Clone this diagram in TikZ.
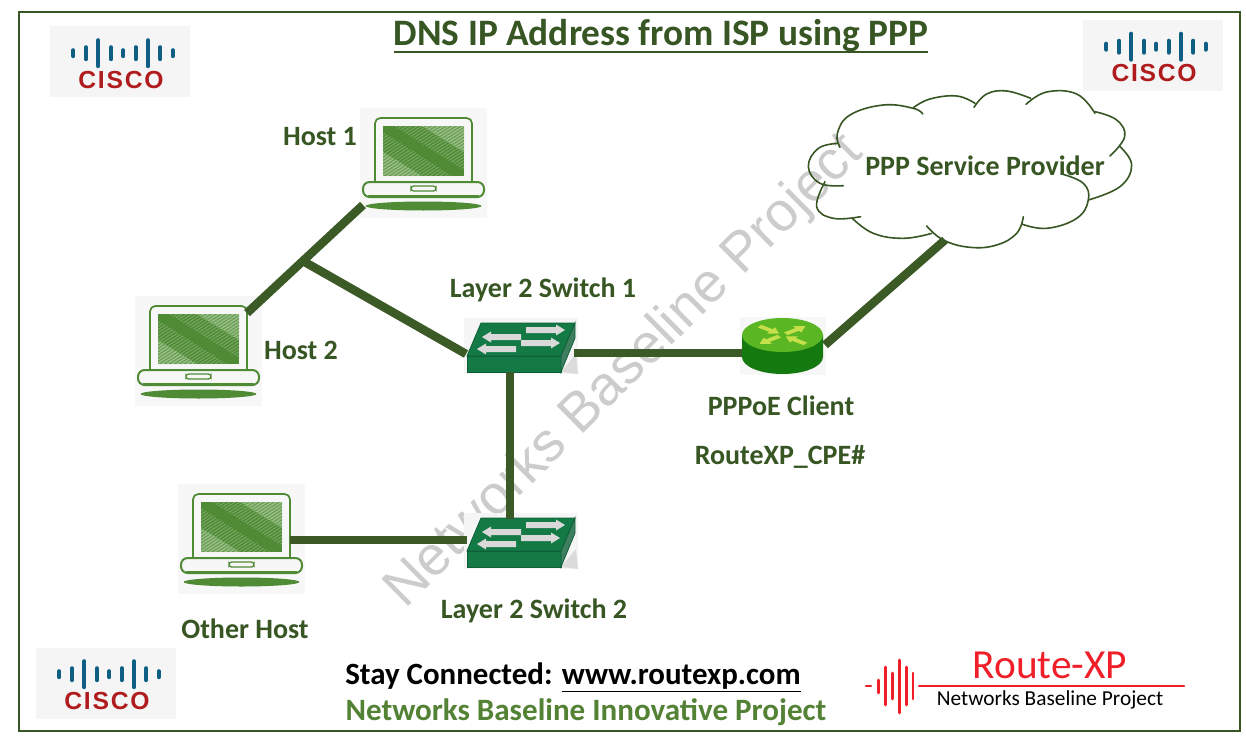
\documentclass[tikz,border=0pt]{standalone}
\usepackage{fontspec}
\setmainfont{Carlito}
\newfontfamily\wmfont{Liberation Sans}
\newfontfamily\ciscofont[LetterSpace=7]{Liberation Sans}
\definecolor{dkgreen}{HTML}{375623}
\definecolor{linkgreen}{HTML}{3B5A25}
\definecolor{midgreen}{HTML}{548235}
\definecolor{lapgreen}{HTML}{4F8B35}
\definecolor{laplight}{HTML}{9DC28C}
\definecolor{lapmid}{HTML}{7AA966}
\definecolor{swgreen}{HTML}{137A46}
\definecolor{swdark}{HTML}{0E5F38}
\definecolor{ciscoblue}{HTML}{0F5F85}
\definecolor{ciscored}{HTML}{B01C1E}
\definecolor{xpred}{HTML}{F01E28}
\definecolor{routerside}{HTML}{147A10}
\definecolor{routertop}{HTML}{5BB624}
\definecolor{routerarrow}{HTML}{C5E04A}
\newcommand{\pxfont}[1]{\fontsize{#1}{#1}\selectfont}
\newcommand{\swright}[3]{\fill[black!15] (#1,#3-3) -- (#2-9,#3-3) -- (#2-9,#3-5.5) -- (#2,#3) -- (#2-9,#3+5.5) -- (#2-9,#3+3) -- (#1,#3+3) -- cycle;}
\newcommand{\swleft}[3]{\fill[black!15] (#1,#3-3) -- (#2+9,#3-3) -- (#2+9,#3-5.5) -- (#2,#3) -- (#2+9,#3+5.5) -- (#2+9,#3+3) -- (#1,#3+3) -- cycle;}
\tikzset{
  x=.75pt,y=-.75pt,
  link/.style={draw=linkgreen,line width=5.6pt},
  diaglink/.style={draw=linkgreen,line width=6.4pt},
  lbl/.style={text=dkgreen,font=\pxfont{21}\bfseries,inner sep=0pt},
  cloudline/.style={draw=dkgreen,line width=1.2pt,line cap=round},
  barline/.style={draw=ciscoblue,line width=3pt,line cap=round},
  xpbar/.style={draw=xpred,line width=1.9pt,line cap=round},
  ciscologo/.pic={
    \fill[black!4] (0,0) rectangle (140,71);
    \foreach \bx/\bh in {23.3/3,36/6,48.3/13,61/6,73.3/3,85.7/6,98/13,110.3/6,122.7/3}
      \draw[barline] (\bx,26.7-\bh) -- (\bx,26.7+\bh);
    \node[text=ciscored,font=\ciscofont\pxfont{18.5}\bfseries,inner sep=0pt] (-word) at (71,53.5) {CISCO};
  },
  laptop/.pic={
    \fill[black!3] (0,0) rectangle (127,110);
    \fill[lapgreen] (23,18) rectangle (104,68);
    \begin{scope}
      \clip (34,18) -- (104,18) -- (104,62) -- cycle;
      \foreach \o in {-40,-35,...,130}
        \draw[lapmid,line width=.7pt] (\o,68) -- ++(80,-52);
    \end{scope}
    \begin{scope}
      \clip (62,18) -- (104,18) -- (104,44) -- cycle;
      \foreach \o in {-38,-33,...,130}
        \draw[laplight,line width=.9pt] (\o,68) -- ++(80,-52);
    \end{scope}
    \begin{scope}
      \clip (23,24) -- (23,68) -- (92,68) -- cycle;
      \foreach \o in {-40,-35,...,130}
        \draw[lapmid,line width=.7pt] (\o,68) -- ++(80,-52);
    \end{scope}
    \begin{scope}
      \clip (23,44) -- (23,68) -- (62,68) -- cycle;
      \foreach \o in {-38,-33,...,130}
        \draw[laplight,line width=.9pt] (\o,68) -- ++(80,-52);
    \end{scope}
    \draw[lapgreen,line width=1.3pt,rounded corners=4pt] (15,74) -- (15,10) -- (112,10) -- (112,74);
    \draw[lapgreen,line width=1.5pt,rounded corners=5pt] (3,74) rectangle (124,89);
    \draw[lapgreen,line width=1pt,rounded corners=2pt] (51,78) rectangle (76,83);
    \fill[lapgreen] (63.5,98) ellipse (58 and 4.5);
    \fill[lapgreen] (8,87) rectangle (119,90);
  },
  switchicon/.pic={
    \fill[black!4] (0,0) rectangle (114,56);
    \fill[black!14] (97,54) -- (112,36) -- (114,56) -- cycle;
    \filldraw[fill=swgreen,draw=swdark,line width=.6pt] (3,38) -- (17,5) -- (111,5) -- (97,38) -- cycle;
    \filldraw[fill=swgreen,draw=swdark,line width=.6pt] (3,38) rectangle (97,54);
    \filldraw[fill=swdark!80,draw=swdark,line width=.6pt] (97,38) -- (111,5) -- (111,20) -- (97,54) -- cycle;
    \swright{62}{101}{12}
    \swleft{57}{18}{19}
    \swright{57}{96}{25}
    \swleft{52}{13}{31}
  },
}
\begin{document}
\begin{tikzpicture}
\useasboundingbox (0,0) rectangle (1246,742);
\fill[white] (0,0) rectangle (1246,742);
\node[text=black!20,font=\wmfont\pxfont{41.5},rotate=44.7,inner sep=0pt] (watermark) at (625,372) {Networks Baseline Project};
\draw[dkgreen,line width=1.6pt] (19,12) rectangle (1240,731);

\pic (logoA) at (50,26.5) {ciscologo};
\pic (logoB) at (1083,20) {ciscologo};
\pic (logoC) at (36,647.5) {ciscologo};

\pic (hostA) at (360,108) {laptop};
\pic (hostB) at (135,296) {laptop};
\pic (hostC) at (178,484) {laptop};
\pic (swA) at (464,318) {switchicon};
\pic (swB) at (464,513) {switchicon};

% router
\fill[black!3] (740,317) rectangle (826,375);
\fill[routerside] (742,335) -- (742,357) arc[start angle=180,end angle=0,x radius=40.5,y radius=17] -- (823,335) -- cycle;
\fill[routertop] (782.5,335) ellipse (40.5 and 17);
\foreach \ang in {35,215}
  \fill[routerarrow,shift={(782.5,335)},yscale=.55,rotate=\ang] (4,-3) -- (18,-3) -- (18,-7) -- (28,0) -- (18,7) -- (18,3) -- (4,3) -- cycle;
\foreach \ang in {145,325}
  \fill[routerarrow,shift={(782.5,335)},yscale=.55,rotate=\ang] (28,-3) -- (14,-3) -- (14,-7) -- (4,0) -- (14,7) -- (14,3) -- (28,3) -- cycle;

% cloud
\begin{scope}[shift={(790,70)},x=.25pt,y=-.25pt]
\draw[cloudline] plot[smooth,tension=.7] coordinates {(150,232) (142,190) (180,135) (280,105) (370,115) (398,132)};
\draw[cloudline] plot[smooth,tension=.7] coordinates {(370,113) (420,87) (500,78) (555,100)};
\draw[cloudline] plot[smooth,tension=.7] coordinates {(552,112) (590,72) (650,63) (722,85)};
\draw[cloudline] plot[smooth,tension=.7] coordinates {(708,103) (770,66) (860,72) (915,130)};
\draw[cloudline] plot[smooth,tension=.7] coordinates {(915,125) (980,150) (1004,200) (960,258)};
\draw[cloudline] plot[smooth,tension=.7] coordinates {(990,230) (1025,285) (990,350) (895,390)};
\draw[cloudline] plot[smooth,tension=.7] coordinates {(815,312) (880,340) (895,390) (860,445) (770,475) (695,462)};
\draw[cloudline] plot[smooth,tension=.7] coordinates {(700,440) (680,490) (620,525) (540,532) (460,510) (410,468)};
\draw[cloudline] plot[smooth,tension=.7] coordinates {(425,490) (340,505) (250,490) (187,445)};
\draw[cloudline] plot[smooth,tension=.7] coordinates {(212,440) (130,445) (80,410) (105,335)};
\draw[cloudline] plot[smooth,tension=.7] coordinates {(160,347) (90,340) (55,290) (85,235) (145,220)};
\end{scope}

% connector ends
\coordinate (h1p) at (363,205);
\coordinate (h2p) at (247,313);
\coordinate (jn) at (303,261);
\coordinate (s1w) at (466,354);
\coordinate (s1e) at (574,353);
\coordinate (s1s) at (510,372);
\coordinate (s2n) at (510,519);
\coordinate (s2w) at (467,540);
\coordinate (h3p) at (290,540);
\coordinate (rw) at (742,353);
\coordinate (re) at (825,345);
\coordinate (cl) at (945,240);
\draw[diaglink] (h1p) -- (h2p);
\draw[diaglink] (jn) -- (s1w);
\draw[link] (s1e) -- (rw);
\draw[link] (s1s) -- (s2n);
\draw[link] (h3p) -- (s2w);
\draw[diaglink] (re) -- (cl);

% labels
\node[text=dkgreen,font=\pxfont{28}\bfseries,inner sep=0pt] (title) at (661,35.5) {DNS IP Address from ISP using PPP};
\draw[dkgreen,line width=1.5pt] (394,52.5) -- (928,52.5);
\node[lbl] (l1) at (320,137) {Host 1};
\node[lbl] (l2) at (301,350.5) {Host 2};
\node[lbl] (l3) at (543,289.5) {Layer 2 Switch 1};
\node[lbl] (l4) at (534,610.5) {Layer 2 Switch 2};
\node[lbl] (l5) at (245,629) {Other Host};
\node[lbl] (l6) at (781,405.5) {PPPoE Client};
\node[lbl] (l7) at (780,456.5) {RouteXP\_CPE\#};
\node[lbl] (l8) at (985,165.5) {PPP Service Provider};
\node[text=black,font=\pxfont{23.2}\bfseries,inner sep=0pt] (stay) at (573,677) {Stay Connected: \underline{www.routexp.com}};
\node[text=midgreen,font=\pxfont{23.3}\bfseries,inner sep=0pt] (nbip) at (586,712) {Networks Baseline Innovative Project};

% Route-XP logo
\foreach \wx/\wa/\wb in {878.3/680/693,885.7/667/705,892.3/673/699,899.3/660/713,906.7/667/705,913/673/699}
  \draw[xpbar] (\wx,\wa) -- (\wx,\wb);
\draw[xpbar] (866,686) -- (871,686);
\draw[xpbar] (919,686) -- (1184,686);
\node[text=xpred,font=\pxfont{31},inner sep=0pt] (xp) at (1050,665.5) {Route-XP};
\node[text=black,font=\pxfont{16},inner sep=0pt] (xpsub) at (1050,700) {Networks Baseline Project};
\end{tikzpicture}
\end{document}
